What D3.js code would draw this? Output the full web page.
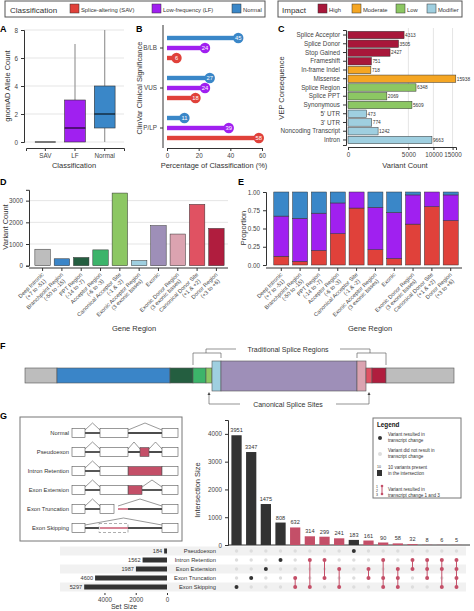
<!DOCTYPE html>
<html><head><meta charset="utf-8">
<script src="https://cdn.jsdelivr.net/npm/d3@7"></script>
<style>body{margin:0;background:#fff}svg{font-family:"Liberation Sans",Arial,sans-serif}</style>
</head><body><svg id="c" width="474" height="611"></svg>
<script>
// ---------- DATA ----------
const classNames = ["Splice-altering (SAV)","Low-frequency (LF)","Normal"];
const classColors = ["#e0413a","#a020f0","#3a87c8"];
const boxCats = ["SAV","LF","Normal"];
const boxQ1 = [0,0,1], boxMed=[0,1,2], boxQ3=[0,3,4], boxMin=[0,0,0], boxMax=[0,7,8];
const clinCats = ["B/LB","VUS","P/LP"];
const clinNormal = [45,27,11], clinLF=[24,24,39], clinSAV=[6,18,58];
const impactNames = ["High","Moderate","Low","Modifier"];
const impactColors = ["#a8173a","#f5a623","#8cc763","#9fcfe0"];
const vepCats = ["Splice Acceptor","Splice Donor","Stop Gained","Frameshift","In-frame Indel","Missense","Splice Region","Splice PPT","Synonymous","5' UTR","3' UTR","Noncoding Transcript","Intron"];
const vepCounts = [4313,3505,2427,751,718,15938,6348,2069,5609,473,774,1242,9663];
const vepImpact = [0,0,0,0,1,1,2,2,2,3,3,3,3];
const vepLabels = ["4313","3505","2427","751","718","15938","6348","2069","5609","473","774","1242","9663"];
const regions = ["Deep Intronic\n(+7 to -51)","Branchpoint Region\n(-50 to -15)","PPT Region\n(-14 to -7)","Acceptor Region\n(-6 to -3)","Canonical Acceptor Site\n(-1 & -2)","Exonic Acceptor Region\n(3 exonic bases)","Exonic","Exonic Donor Region\n(3 exonic bases)","Canonical Donor Site\n(+1 & +2)","Donor Region\n(+3 to +6)"];
const regionColors = ["#bdbdbd","#3a85c8","#245e40","#3cb46a","#8cc763","#9fcfe0","#9e8fb8","#dba3b0","#e05262","#b01d3e"];
const regionCounts = [760,320,380,730,3350,240,1850,1460,2830,1720];
const propSAV = [0.12,0.05,0.20,0.43,0.78,0.21,0.09,0.56,0.80,0.61];
const propLF  = [0.55,0.59,0.51,0.42,0.22,0.58,0.63,0.40,0.20,0.35];
const geneSegments = [0,1,2,3,4,5,6,7,8,9,10,0];
const geneSegWidths = [32,113,23,13,6,9,136,9,6,14,68];
const sets = ["Pseudoexon","Intron Retention","Exon Extension","Exon Truncation","Exon Skipping"];
const setSizes = [184,1562,1987,4600,5297];
const interSizes = [3951,3347,1475,808,632,314,299,241,183,161,90,58,32,8,6,5];
const interSets = [[4],[3],[2],[1],[3,4],[1,4],[1,3],[2,4],[0],[2,3],[1,3,4],[2,3,4],[1,2],[1,2,3],[1,2,4],[1,2,3,4]];
const transcriptTypes = ["Normal","Pseudoexon","Intron Retention","Exon Extension","Exon Truncation","Exon Skipping"];

// ---------- DRAW ----------
const svg = d3.select("#c");
const fs=6.3, fmt=d3.format("d");
function txt(g,x,y,s,o={}){const t=g.append("text").attr("x",x).attr("y",y).text(s).attr("font-size",o.size||fs).attr("fill",o.fill||"#333");
 if(o.anchor)t.attr("text-anchor",o.anchor); if(o.rot!=null)t.attr("transform",`rotate(${o.rot},${x},${y})`); if(o.bold)t.attr("font-weight","bold"); return t;}
function styleAxis(g){g.selectAll("path.domain").attr("stroke","#333");g.selectAll(".tick line").attr("stroke","#333");g.selectAll("text").attr("font-size",fs).attr("fill","#444");}
function panelLabel(x,y,s){txt(svg,x,y,s,{size:9,bold:true,fill:"#000"});}

// Legends
const lg1=svg.append("g");
lg1.append("rect").attr("x",5).attr("y",1).attr("width",260).attr("height",16).attr("fill","#fff").attr("stroke","#555");
txt(lg1,10,12.5,"Classification",{size:8});
const lgx=[70,152,232];
classNames.forEach((n,i)=>{lg1.append("rect").attr("x",lgx[i]).attr("y",4).attr("width",9).attr("height",9).attr("fill",classColors[i]).attr("stroke","#333").attr("stroke-width",0.5);txt(lg1,lgx[i]+11,11.5,n,{size:5.8});});
const lg2=svg.append("g");
lg2.append("rect").attr("x",278).attr("y",1).attr("width",184).attr("height",16).attr("fill","#fff").attr("stroke","#555");
txt(lg2,282,12.5,"Impact",{size:8});
const lgx2=[318,352,396,427];
impactNames.forEach((n,i)=>{lg2.append("rect").attr("x",lgx2[i]).attr("y",4).attr("width",9).attr("height",9).attr("fill",impactColors[i]).attr("stroke","#333").attr("stroke-width",0.5);txt(lg2,lgx2[i]+11,11.5,n,{size:5.8});});

// Panel A
panelLabel(0,32,"A");
{const g=svg.append("g");
 const x=d3.scaleBand().domain(boxCats).range([26,124]).padding(0.3);
 const y=d3.scaleLinear().domain([0,8]).range([142,30]);
 [0,2,4,6,8].forEach(v=>g.append("line").attr("x1",24).attr("x2",124).attr("y1",y(v)).attr("y2",y(v)).attr("stroke","#e5e5e5"));
 g.append("g").attr("transform","translate(24,0)").call(d3.axisLeft(y).ticks(4).tickSize(3)).call(styleAxis);
 g.append("g").attr("transform","translate(0,148)").call(d3.axisBottom(x).tickSize(3)).call(styleAxis);
 boxCats.forEach((c,i)=>{const cx=x(c)+x.bandwidth()/2;
  g.append("line").attr("x1",cx).attr("x2",cx).attr("y1",y(boxMin[i])).attr("y2",y(boxMax[i])).attr("stroke","#999").attr("stroke-width",1.2);
  g.append("rect").attr("x",x(c)).attr("width",x.bandwidth()).attr("y",y(boxQ3[i])).attr("height",y(boxQ1[i])-y(boxQ3[i])).attr("fill",classColors[i]).attr("stroke","#333").attr("stroke-width",0.6);
  g.append("line").attr("x1",x(c)).attr("x2",x(c)+x.bandwidth()).attr("y1",y(boxMed[i])).attr("y2",y(boxMed[i])).attr("stroke","#000").attr("stroke-width",1);});
 txt(g,74,168,"Classification",{size:7.5,anchor:"middle"});
 txt(g,10,86,"gnomAD Allele Count",{size:7.5,anchor:"middle",rot:-90});
}
// Panel B
panelLabel(136,32,"B");
{const g=svg.append("g");
 const x=d3.scaleLinear().domain([0,60]).range([167,262]);
 const yc=d3.scaleBand().domain(clinCats).range([28,148]);
 g.append("g").attr("transform","translate(0,148)").call(d3.axisBottom(x).ticks(3).tickSize(3)).call(styleAxis);
 const ya=g.append("g").attr("transform","translate(163,0)").call(d3.axisLeft(yc).tickSize(3)).call(styleAxis);
 ya.select("path").remove();
 g.append("line").attr("x1",163).attr("x2",163).attr("y1",25).attr("y2",148).attr("stroke","#333");
 const ser=[clinNormal,clinLF,clinSAV], cols=[classColors[2],classColors[1],classColors[0]];
 clinCats.forEach((c,ci)=>{ser.forEach((s,si)=>{const yy=yc(c)+yc.bandwidth()/2+(si-1)*10;
  g.append("rect").attr("x",x(0)).attr("y",yy-2.2).attr("width",x(s[ci])-x(0)).attr("height",4.4).attr("fill",cols[si]);
  g.append("circle").attr("cx",x(s[ci])).attr("cy",yy).attr("r",5.2).attr("fill",cols[si]);
  txt(g,x(s[ci]),yy+2.1,s[ci],{size:5.8,anchor:"middle",fill:"#fff"});});});
 txt(g,214,168,"Percentage of Classification (%)",{size:7.5,anchor:"middle"});
 txt(g,142,88,"ClinVar Clinical Significance",{size:7.5,anchor:"middle",rot:-90});
}
// Panel C
panelLabel(278,32,"C");
{const g=svg.append("g");
 const x=d3.scaleSqrt().domain([0,16000]).range([348,456]);
 const y=d3.scaleBand().domain(vepCats).range([30,145]).padding(0.15);
 [5000,10000,15000].forEach(v=>g.append("line").attr("x1",x(v)).attr("x2",x(v)).attr("y1",28).attr("y2",147).attr("stroke","#e5e5e5"));
 g.append("g").attr("transform","translate(0,147)").call(d3.axisBottom(x).tickValues([0,5000,10000,15000]).tickFormat(fmt).tickSize(3)).call(styleAxis);
 g.append("g").attr("transform","translate(346,0)").call(d3.axisLeft(y).tickSize(3)).call(styleAxis);
 vepCats.forEach((c,i)=>{g.append("rect").attr("x",348).attr("y",y(c)).attr("width",x(vepCounts[i])-348).attr("height",y.bandwidth()).attr("fill",impactColors[vepImpact[i]]).attr("stroke","#333").attr("stroke-width",0.5);
  txt(g,x(vepCounts[i])+1,y(c)+y.bandwidth()/2+1.8,vepLabels[i],{size:4.8});});
 txt(g,405,168,"Variant Count",{size:7.5,anchor:"middle"});
 txt(g,284,88,"VEP Consequence",{size:7.5,anchor:"middle",rot:-90});
}
function regionLabels(g,x,y0){regions.forEach((r,i)=>{const cx=x(i)+x.bandwidth()/2+1.5;const lines=r.split("\n");
 const t=g.append("text").attr("transform",`translate(${cx},${y0}) rotate(-45)`).attr("text-anchor","end").attr("font-size",5.6).attr("fill","#444");
 lines.forEach((l,j)=>t.append("tspan").attr("x",j==0?0:-3).attr("dy",j==0?0:6).text(l));});}
// Panel D
panelLabel(0,185,"D");
{const g=svg.append("g");
 const x=d3.scaleBand().domain(d3.range(10)).range([31,228]).padding(0.2);
 const y=d3.scaleLinear().domain([0,3500]).range([265.7,189.8]);
 [1000,2000,3000].forEach(v=>g.append("line").attr("x1",29).attr("x2",228).attr("y1",y(v)).attr("y2",y(v)).attr("stroke","#e5e5e5"));
 g.append("g").attr("transform","translate(29,0)").call(d3.axisLeft(y).ticks(3).tickFormat(fmt).tickSize(3)).call(styleAxis);
 g.append("line").attr("x1",29).attr("x2",228).attr("y1",268).attr("y2",268).attr("stroke","#333");
 regionCounts.forEach((v,i)=>{g.append("rect").attr("x",x(i)).attr("y",y(v)).attr("width",x.bandwidth()).attr("height",y(0)-y(v)).attr("fill",regionColors[i]).attr("stroke","#333").attr("stroke-width",0.5);
  g.append("line").attr("x1",x(i)+x.bandwidth()/2).attr("x2",x(i)+x.bandwidth()/2).attr("y1",268).attr("y2",271).attr("stroke","#333");});
 regionLabels(g,x,275);
 txt(g,134,331,"Gene Region",{size:7.5,anchor:"middle"});
 txt(g,8,227,"Variant Count",{size:7.5,anchor:"middle",rot:-90});
}
// Panel E
panelLabel(238,185,"E");
{const g=svg.append("g");
 const x=d3.scaleBand().domain(d3.range(10)).range([270,462]).padding(0.2);
 const y=d3.scaleLinear().domain([0,1]).range([265,192]);
 g.append("g").attr("transform","translate(266,0)").call(d3.axisLeft(y).tickValues([0,0.25,0.5,0.75,1]).tickFormat(d3.format(".2f")).tickSize(3)).call(styleAxis);
 g.append("line").attr("x1",266).attr("x2",462).attr("y1",268).attr("y2",268).attr("stroke","#333");
 regions.forEach((r,i)=>{const segs=[[0,propSAV[i],0],[propSAV[i],propSAV[i]+propLF[i],1],[propSAV[i]+propLF[i],1,2]];
  segs.forEach(s=>{if(s[1]-s[0]>0.001)g.append("rect").attr("x",x(i)).attr("y",y(s[1])).attr("width",x.bandwidth()).attr("height",y(s[0])-y(s[1])).attr("fill",classColors[s[2]]).attr("stroke","#333").attr("stroke-width",0.5);});
  g.append("line").attr("x1",x(i)+x.bandwidth()/2).attr("x2",x(i)+x.bandwidth()/2).attr("y1",268).attr("y2",271).attr("stroke","#333");});
 regionLabels(g,x,275);
 txt(g,370,331,"Gene Region",{size:7.5,anchor:"middle"});
 txt(g,246,228,"Proportion",{size:7.5,anchor:"middle",rot:-90});
}
// Panel F
panelLabel(0,349,"F");
{const g=svg.append("g");
 const cum=[0];geneSegWidths.forEach(w=>cum.push(cum[cum.length-1]+w));
 const x=d3.scaleLinear().domain([0,cum[cum.length-1]]).range([25,454]);
 const tall=new Set([5,6,7]);
 geneSegWidths.forEach((w,i)=>{const ri=geneSegments[i];const col=ri>=10?"#bdbdbd":regionColors[ri];
  const t=tall.has(i);g.append("rect").attr("x",x(cum[i])).attr("width",x(cum[i+1])-x(cum[i])).attr("y",t?361:368).attr("height",t?30:15).attr("fill",col).attr("stroke","#555").attr("stroke-width",0.6);});
 const L=(pts)=>g.append("path").attr("d",d3.line()(pts)).attr("fill","none").attr("stroke","#666").attr("stroke-width",0.7);
 L([[x(cum[3]),365],[x(cum[3]),353],[x(cum[6]),353],[x(cum[6]),358]]);
 L([[x(cum[7]),358],[x(cum[7]),353],[x(cum[10]),353],[x(cum[10]),365]]);
 L([[206,353],[206,349],[236,349]]); L([[340,349],[370,349],[370,353]]);
 txt(g,288,351.5,"Traditional Splice Regions",{size:7,anchor:"middle"});
 L([[x(cum[4]+3),394],[x(cum[4]+3),404],[240,404]]); L([[336,404],[x(cum[8]+3),404],[x(cum[8]+3),394]]);
 g.append("path").attr("d",`M${x(cum[4]+3)-1.5},395 L${x(cum[4]+3)},392 L${x(cum[4]+3)+1.5},395Z`).attr("fill","#444");
 g.append("path").attr("d",`M${x(cum[8]+3)-1.5},395 L${x(cum[8]+3)},392 L${x(cum[8]+3)+1.5},395Z`).attr("fill","#444");
 txt(g,288,406.5,"Canonical Splice Sites",{size:7,anchor:"middle"});
}
// Panel G diagram
panelLabel(0,419,"G");
{const g=svg.append("g");
 g.append("rect").attr("x",20).attr("y",417).attr("width",162).attr("height",124).attr("fill","#fff").attr("stroke","#777");
 const red="#c44f68";
 const ys=d3.scalePoint().domain(transcriptTypes).range([433,528]);
 const ex=[[72,85],[100,128],[162,178]];
 const arc=(a,b,yy,h)=>g.append("path").attr("d",`M${a},${yy-3}L${(a+b)/2},${yy-3-h}L${b},${yy-3}`).attr("fill","none").attr("stroke","#555").attr("stroke-width",0.6);
 const thick=(a,b,yy,c)=>g.append("line").attr("x1",a).attr("x2",b).attr("y1",yy).attr("y2",yy).attr("stroke",c||"#111").attr("stroke-width",1.4);
 const box=(a,b,yy,c)=>g.append("rect").attr("x",a).attr("y",yy-4.5).attr("width",b-a).attr("height",9).attr("fill",c||"#fff").attr("stroke","#555").attr("stroke-width",0.6);
 transcriptTypes.forEach((t,i)=>{const yy=ys(t);txt(g,69,yy+2.2,t,{size:5.8,anchor:"end"});
  if(i==0){thick(85,100,yy);thick(128,162,yy);arc(85,100,yy,7);arc(128,162,yy,7);}
  if(i==1){thick(85,100,yy);thick(128,162,yy);arc(85,100,yy,7);arc(128,140,yy,7);arc(149,162,yy,7);box(140,149,yy,red);}
  if(i==2){thick(85,100,yy);arc(85,100,yy,7);box(128,162,yy,red);}
  if(i==3){thick(85,100,yy);thick(142,162,yy);arc(85,100,yy,7);arc(142,162,yy,7);box(128,142,yy,red);}
  if(i==4){thick(85,100,yy);thick(128,162,yy);thick(118,128,yy,red);arc(85,100,yy,7);arc(118,162,yy,7);}
  if(i==5){thick(85,162,yy);arc(85,162,yy,7);}
  ex.forEach(e=>{ if(!(i==5&&e[0]==100)&&!(i==4&&e[0]==100)) box(e[0],e[1],yy);});
  if(i==4)box(100,114,yy);
  if(i==5){g.append("rect").attr("x",99).attr("y",yy-4.5).attr("width",29).attr("height",9).attr("fill","#fff").attr("stroke","#777").attr("stroke-dasharray","3,2").attr("stroke-width",0.6);thick(100,128,yy,red);}
 });
}
// Upset
{const g=svg.append("g");
 const dark="#333", red="#c44f68";
 const x=d3.scaleBand().domain(d3.range(16)).range([227,466]).padding(0.3);
 const y=d3.scaleLinear().domain([0,4500]).range([545,420]);
 const ry=d3.scalePoint().domain(sets).range([551,587]);
 sets.forEach((s,i)=>{if(i%2==0)g.append("rect").attr("x",60).attr("y",ry(s)-4.5).attr("width",406).attr("height",9).attr("fill","#f1f1f1");});
 g.append("g").attr("transform","translate(228,0)").call(d3.axisLeft(y).tickValues([0,1000,2000,3000,4000]).tickFormat(fmt).tickSize(3)).call(styleAxis);
 g.append("line").attr("x1",228).attr("x2",470).attr("y1",545).attr("y2",545).attr("stroke","#333");
 interSizes.forEach((v,i)=>{const multi=interSets[i].length>1;const c=multi?red:dark;const cx=x(i)+x.bandwidth()/2;
  g.append("rect").attr("x",x(i)).attr("y",y(v)).attr("width",x.bandwidth()).attr("height",y(0)-y(v)).attr("fill",c);
  txt(g,cx,y(v)-3,v,{size:5.6,anchor:"middle"});
  sets.forEach((s,si)=>{if(!interSets[i].includes(si))g.append("circle").attr("cx",cx).attr("cy",ry(s)).attr("r",1.7).attr("fill","#ddd");});
  const ss=interSets[i];
  if(multi)g.append("line").attr("x1",cx).attr("x2",cx).attr("y1",ry(sets[d3.min(ss)])).attr("y2",ry(sets[d3.max(ss)])).attr("stroke",red).attr("stroke-width",1);
  ss.forEach(si=>g.append("circle").attr("cx",cx).attr("cy",ry(sets[si])).attr("r",2).attr("fill",c));});
 txt(g,200,490,"Intersection Size",{size:7.5,anchor:"middle",rot:-90});
 const sx=d3.scaleLinear().domain([0,5500]).range([167,81]);
 sets.forEach((s,i)=>{g.append("rect").attr("x",sx(setSizes[i])).attr("y",ry(s)-2.5).attr("width",sx(0)-sx(setSizes[i])).attr("height",5).attr("fill",dark);
  txt(g,sx(setSizes[i])-2,ry(s)+2,setSizes[i],{size:5.6,anchor:"end"});
  txt(g,216,ry(s)+2,s,{size:5.8,anchor:"end"});});
 const sa=g.append("g").attr("transform","translate(0,593)").call(d3.axisBottom(sx).tickValues([0,2000,4000]).tickFormat(fmt).tickSize(2)).call(styleAxis);
 sa.select("path").remove();
 txt(g,124,609,"Set Size",{size:7,anchor:"middle"});
 g.append("rect").attr("x",373).attr("y",418).attr("width",88).attr("height",80).attr("fill","#fff").attr("stroke","#777");
 txt(g,377,427,"Legend",{size:6.3,bold:true,fill:"#111"});
 g.append("circle").attr("cx",380).attr("cy",438).attr("r",2).attr("fill",dark);
 txt(g,388,436,"Variant resulted in",{size:4.6});txt(g,388,442,"transcript change",{size:4.6});
 g.append("circle").attr("cx",380).attr("cy",454).attr("r",2).attr("fill","#ddd");
 txt(g,388,452,"Variant did not result in",{size:4.6});txt(g,388,458,"transcript change",{size:4.6});
 txt(g,377,468,"10",{size:3.5});
 g.append("rect").attr("x",377).attr("y",470).attr("width",5).attr("height",6).attr("fill",dark);
 txt(g,388,469,"10 variants present",{size:4.6});txt(g,388,475,"in the intersection",{size:4.6});
 g.append("line").attr("x1",382).attr("x2",382).attr("y1",485).attr("y2",494).attr("stroke",red);
 g.append("circle").attr("cx",382).attr("cy",486).attr("r",1.3).attr("fill",red);g.append("circle").attr("cx",382).attr("cy",494).attr("r",1.3).attr("fill",red);
 txt(g,376,488,"1",{size:3.5});txt(g,376,492,"2",{size:3.5});txt(g,376,496,"3",{size:3.5});
 txt(g,388,491,"Variant resulted in",{size:4.6});txt(g,388,497,"transcript change 1 and 3",{size:4.6});
}
</script></body></html>
